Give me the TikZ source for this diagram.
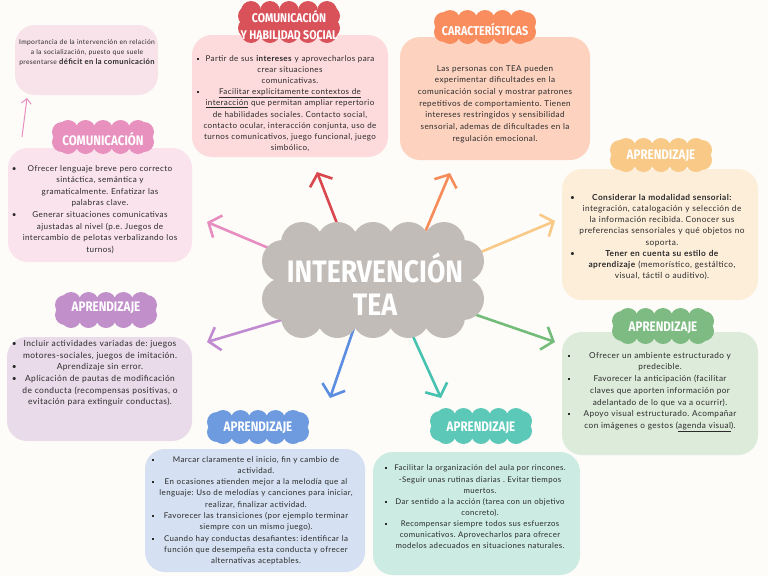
\documentclass[tikz,border=0pt]{standalone}
\usepackage{fontspec}
\setmainfont{Lato}[LetterSpace=5]
\newfontfamily\hfont{Fira Sans}[FakeStretch=0.84]
\newfontfamily\bigfont{Fira Sans}[FakeStretch=0.86]
\usetikzlibrary{arrows.meta}
\definecolor{bgc}{HTML}{FDFCF8}
\definecolor{txt}{HTML}{2A2A2A}
% clouds
\definecolor{cpink}{HTML}{E890BE}
\definecolor{cred}{HTML}{D9525A}
\definecolor{corange}{HTML}{F98D5E}
\definecolor{cyellow}{HTML}{F8C987}
\definecolor{cgreen}{HTML}{7DBB82}
\definecolor{cpurple}{HTML}{C18FCA}
\definecolor{cblue}{HTML}{6E9BDF}
\definecolor{cteal}{HTML}{5CC8B8}
\definecolor{cgray}{HTML}{C1BCB7}
% boxes
\definecolor{btl}{HTML}{F9E3EA}
\definecolor{bpink}{HTML}{FAE3EC}
\definecolor{bred}{HTML}{FDDADC}
\definecolor{borange}{HTML}{FDD3C0}
\definecolor{byellow}{HTML}{FDEEDA}
\definecolor{bgreen}{HTML}{DDEBDA}
\definecolor{bpurple}{HTML}{EADBEA}
\definecolor{bblue}{HTML}{D5E1F2}
\definecolor{bteal}{HTML}{CBEBE3}
% arrows
\definecolor{ared}{HTML}{D9474F}
\definecolor{aorange}{HTML}{F78B5A}
\definecolor{ayellow}{HTML}{F9C987}
\definecolor{apink}{HTML}{E88DC0}
\definecolor{apurple}{HTML}{C08BD0}
\definecolor{ablue}{HTML}{5B8EE0}
\definecolor{ateal}{HTML}{45C2B0}
\definecolor{agreen}{HTML}{74BC7A}
\newcommand\puff[9]{%
  \fill[#9] (#1-#5,#2-#4) rectangle (#1+#5,#2+#4);
  \foreach \i in {0,...,#8}{%
    \fill[#9] ({#1-#3+\i*2*#3/#8},#2-#4) circle[radius=#7pt];
    \fill[#9] ({#1-#3+\i*2*#3/#8},#2+#4) circle[radius=#7pt];}
  \fill[#9] (#1-#5,#2-#6) circle[radius=#7pt];
  \fill[#9] (#1-#5,#2+#6) circle[radius=#7pt];
  \fill[#9] (#1+#5,#2-#6) circle[radius=#7pt];
  \fill[#9] (#1+#5,#2+#6) circle[radius=#7pt];
}
\newcommand\sq{\raisebox{1.5pt}{\rule{2pt}{2pt}}}
\newcommand\bli[2][\textbullet]{\leavevmode\hbox to \linewidth{#1\hspace{3pt}\hfil #2\hfil\hspace{3pt}\phantom{#1}}}
\frenchspacing
\begin{document}
\begin{tikzpicture}[x=1pt,y=-1pt,
  body/.style={font=\fontsize{8.1}{11.6}\selectfont, text=txt, align=center, inner sep=0pt, anchor=north},
  ctitle/.style={font=\hfont\bfseries\fontsize{13.8}{14}\selectfont, text=white, inner sep=0pt},
  arr/.style={line width=2.6pt, line cap=round, line join=round, -{Straight Barb[length=10pt,width=24pt]}},
  bx/.style={rounded corners=20pt}]
\fill[bgc] (0,0) rectangle (768,576);
\useasboundingbox (0,0) rectangle (768,576);

% ---- boxes ----
\fill[btl, bx] (15,25) rectangle (158,95);
\fill[bpink, bx] (8,148) rectangle (192,262);
\fill[bred, bx] (192,35) rectangle (388,157);
\fill[borange, bx] (400,37) rectangle (590,160);
\fill[byellow, bx] (562,169) rectangle (758,300);
\fill[bgreen, bx] (562,332) rectangle (758,455);
\fill[bpurple, bx] (7,337) rectangle (192,441);
\fill[bblue, bx] (145,449) rectangle (365,572);
\fill[bteal, bx] (373,452) rectangle (580,575);

% ---- arrows ----
\coordinate (s1) at (338,226); \coordinate (t1) at (317,172);
\coordinate (s2) at (426,230); \coordinate (t2) at (450,173);
\coordinate (s3) at (476,254); \coordinate (t3) at (555,221);
\coordinate (s4) at (278,252); \coordinate (t4) at (207,222);
\coordinate (s5) at (288,318); \coordinate (t5) at (207,342);
\coordinate (s6) at (356,322); \coordinate (t6) at (330,398);
\coordinate (s7) at (411,332); \coordinate (t7) at (441,398);
\coordinate (s8) at (462,310); \coordinate (t8) at (555,342);
\draw[arr, ared] (s1) -- (t1);
\draw[arr, aorange] (s2) -- (t2);
\draw[arr, ayellow] (s3) -- (t3);
\draw[arr, apink] (s4) -- (t4);
\draw[arr, apurple] (s5) -- (t5);
\draw[arr, ablue] (s6) -- (t6);
\draw[arr, ateal] (s7) -- (t7);
\draw[arr, agreen] (s8) -- (t8);
\coordinate (s0) at (22,137); \coordinate (t0) at (27,98);
\draw[apink, line width=1pt, -{Straight Barb[length=5pt,width=10pt]}] (s0) -- (t0);

% ---- central cloud ----
\puff{373}{280}{71}{37}{90}{19}{21}{4}{cgray}
\node[font=\bigfont\bfseries\fontsize{31}{33}\selectfont, text=white, align=center, inner sep=0pt] (tea) at (375,284) {INTERVENCIÓN\\TEA};

% ---- label clouds ----
\puff{103}{137}{35}{7}{41}{5}{10}{4}{cpink}
\node[ctitle] (lcom) at (103,139) {COMUNICACIÓN};
\puff{289}{22}{38}{11}{41}{6}{10}{4}{cred}
\node[ctitle, font=\hfont\bfseries\fontsize{12.6}{16.5}\selectfont, align=center] (lsoc) at (289,25) {COMUNICACIÓN\\Y HABILIDAD SOCIAL};
\puff{485}{27}{35}{7}{41}{5}{10}{4}{corange}
\node[ctitle, font=\hfont\bfseries\fontsize{12.8}{14}\selectfont] (lcar) at (485,29) {CARACTERÍSTICAS};
\puff{661}{155}{35}{7}{41}{5}{10}{4}{cyellow}
\node[ctitle] (lap1) at (661,156) {APRENDIZAJE};
\puff{663}{326}{35}{8}{41}{5}{10}{4}{cgreen}
\node[ctitle] (lap2) at (663,328) {APRENDIZAJE};
\puff{106}{310}{35}{8}{41}{5}{10}{4}{cpurple}
\node[ctitle] (lap3) at (106,308) {APRENDIZAJE};
\puff{258}{427}{35}{7}{41}{5}{10}{4}{cblue}
\node[ctitle] (lap4) at (258,428) {APRENDIZAJE};
\puff{481}{426}{35}{8}{41}{5}{10}{4}{cteal}
\node[ctitle] (lap5) at (481,428) {APRENDIZAJE};

% ---- texts ----
\node[body, font=\fontsize{6.7}{10}\selectfont, text width=150pt] (ttl) at (87,39)
{Importancia de la intervención en relación\\
a la socialización, puesto que suele\\
presentarse {\fontsize{7.6}{10}\selectfont\bfseries déficit en la comunicación}};

\node[body, text width=176pt] (tcom) at (100,165)
{\bli{Ofrecer lenguaje breve pero correcto}\\
sintáctica, semántica y\\
gramaticalmente. Enfatizar las\\
palabras clave.\\
\bli{Generar situaciones comunicativas}\\
ajustadas al nivel (p.e. Juegos de\\
intercambio de pelotas verbalizando los\\
turnos)};

\node[body, font=\fontsize{8.0}{11.2}\selectfont, text width=186pt] (tsoc) at (290,55)
{\bli[\sq]{Partir de sus \textbf{intereses} y aprovecharlos para}\\
crear situaciones\\
comunicativas.\\
\bli[\sq]{\underline{Facilitar explícitamente contextos de}}\\
\underline{interacción} que permitan ampliar repertorio\\
de habilidades sociales. Contacto social,\\
contacto ocular, interacción conjunta, uso de\\
turnos comunicativos, juego funcional, juego\\
simbólico,};

\node[body, font=\fontsize{8.1}{11.7}\selectfont, text width=180pt] (tcar) at (495,65)
{Las personas con TEA pueden\\
experimentar dificultades en la\\
comunicación social y mostrar patrones\\
repetitivos de comportamiento. Tienen\\
intereses restringidos y sensibilidad\\
sensorial, ademas de dificultades en la\\
regulación emocional.};

\node[body, font=\fontsize{8.3}{11.2}\selectfont, text width=184pt] (tap1) at (662,194)
{\bli{\textbf{Considerar la modalidad sensorial:}}\\
integración, catalogación y selección de\\
la información recibida. Conocer sus\\
preferencias sensoriales y qué objetos no\\
soporta.\\
\bli{\textbf{Tener en cuenta su estilo de}}\\
\textbf{aprendizaje} (memorístico, gestáltico,\\
visual, táctil o auditivo).};

\node[body, font=\fontsize{8.2}{11.7}\selectfont, text width=184pt] (tap2) at (660,352)
{\bli[\sq]{Ofrecer un ambiente estructurado y}\\
predecible.\\
\bli[\sq]{Favorecer la anticipación (facilitar}\\
claves que aporten información por\\
adelantado de lo que va a ocurrir).\\
\bli[\sq]{Apoyo visual estructurado. Acompañar}\\
con imágenes o gestos (\underline{agenda visual}).};

\node[body, font=\fontsize{8.4}{11.7}\selectfont, text width=176pt] (tap3) at (100,340)
{\bli{Incluir actividades variadas de: juegos}\\
motores-sociales, juegos de imitación.\\
\bli{Aprendizaje sin error.}\\
\bli{Aplicación de pautas de modificación}\\
de conducta (recompensas positivas, o\\
evitación para extinguir conductas).};

\node[body, font=\fontsize{7.95}{11.3}\selectfont, text width=208pt] (tap4) at (256,456)
{\bli[\sq]{Marcar claramente el inicio, fin y cambio de}\\
actividad.\\
\bli[\sq]{En ocasiones atienden mejor a la melodía que al}\\
lenguaje: Uso de melodías y canciones para iniciar,\\
realizar, finalizar actividad.\\
\bli[\sq]{Favorecer las transiciones (por ejemplo terminar}\\
siempre con un mismo juego).\\
\bli[\sq]{Cuando hay conductas desafiantes: identificar la}\\
función que desempeña esta conducta y ofrecer\\
alternativas aceptables.};

\node[body, font=\fontsize{7.8}{11.1}\selectfont, text width=190pt] (tap5) at (480,465)
{\bli[\sq]{Facilitar la organización del aula por rincones.}\\
-Seguir unas rutinas diarias . Evitar tiempos\\
muertos.\\
\bli[\sq]{Dar sentido a la acción (tarea con un objetivo}\\
concreto).\\
\bli[\sq]{Recompensar siempre todos sus esfuerzos}\\
comunicativos. Aprovecharlos para ofrecer\\
modelos adecuados en situaciones naturales.};
\end{tikzpicture}
\end{document}
